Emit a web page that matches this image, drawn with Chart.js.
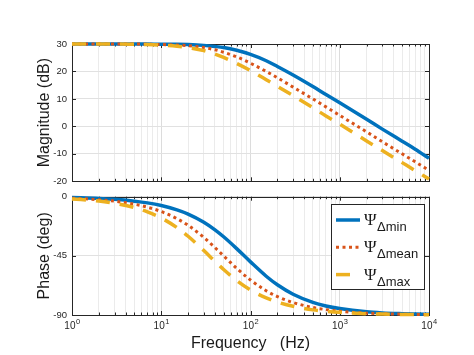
<!DOCTYPE html>
<html>
<head>
<meta charset="utf-8">
<script src="https://cdn.jsdelivr.net/npm/chart.js@4.4.1/dist/chart.umd.min.js"></script>
<style>
  body { margin: 0; background: #fff; }
  #wrap { position: relative; width: 474px; height: 355px; }
  canvas { position: absolute; left: 0; }
  #mag { top: 0; }
  #phase { top: 186px; }
</style>
</head>
<body>
<div id="wrap">
  <canvas id="mag" width="474" height="192"></canvas>
  <canvas id="phase" width="474" height="169"></canvas>
</div>
<script>
// values
const freqs = [1, 2, 3, 5, 7, 10, 15, 20, 30, 40, 50, 70, 100, 150, 200, 300, 500, 700, 1000, 2000, 3000, 5000, 7000, 10000]

const magMin = [30.0, 30.0, 30.0, 30.0, 30.0, 29.9, 29.9, 29.8, 29.5, 29.1, 28.7, 27.7, 26.2, 23.9, 21.8, 18.7, 14.5, 11.6, 8.6, 2.6, -1.0, -5.4, -8.3, -11.6]
const magMean = [30.0, 30.0, 30.0, 30.0, 29.9, 29.8, 29.6, 29.4, 28.7, 27.9, 27.0, 25.3, 23.0, 20.0, 17.7, 14.3, 10.0, 7.1, 4.0, -2.0, -5.6, -10.0, -12.9, -16.0]
const magMax = [30.0, 30.0, 30.0, 29.9, 29.8, 29.6, 29.2, 28.7, 27.6, 26.3, 25.1, 22.9, 20.3, 17.0, 14.6, 11.2, 6.8, 3.8, 0.8, -5.3, -8.8, -13.2, -16.1, -19.2]

const phaseMin = [-0.7, -1.3, -2.0, -3.4, -4.7, -6.7, -10.0, -13.2, -19.4, -25.2, -30.5, -39.5, -49.6, -60.5, -67.0, -74.2, -80.4, -83.1, -85.1, -87.6, -88.4, -89.0, -89.3, -89.5]
const phaseMean = [-1.1, -2.3, -3.4, -5.7, -8.0, -11.3, -16.7, -21.8, -31.0, -38.7, -45.0, -54.5, -63.4, -71.6, -76.0, -80.5, -84.3, -85.9, -87.1, -88.6, -89.0, -89.4, -89.6, -89.7]
const phaseMax = [-1.7, -3.3, -5.0, -8.2, -11.5, -16.2, -23.5, -30.1, -41.0, -49.2, -55.4, -63.8, -71.0, -77.0, -80.2, -83.4, -86.1, -87.2, -88.0, -89.0, -89.3, -89.6, -89.7, -89.8]

const seriesNames = ['Δmin', 'Δmean', 'Δmax']
const freqDecades = [1, 10, 100, 1000, 10000]
const magRange = [-20, 30]
const phaseRange = [-90, 0]

const FONT = "'Liberation Sans', Arial, sans-serif"
const AXIS = '#262626'

Chart.defaults.font.family = FONT
Chart.defaults.color = AXIS

const styles = [
  { color: '#0072BD', width: 3.5, dash: [], order: 3 },
  { color: '#D95319', width: 3, dash: [3, 3.5], order: 2 },
  { color: '#EDB120', width: 3.5, dash: [14, 10], order: 1 }
]

const isDecade = v => freqDecades.includes(v)

// tick positions 1..9 per decade
const logTicks = []
freqDecades.forEach((d, i) => {
  if (i === freqDecades.length - 1) { logTicks.push(d); return }
  for (let m = 1; m <= 9; m++) logTicks.push(d * m)
})

function makeDatasets(series) {
  return series.map((vals, i) => ({
    label: 'Ψ' + seriesNames[i],
    sub: seriesNames[i],
    data: freqs.map((f, j) => ({ x: f, y: vals[j] })),
    borderColor: styles[i].color,
    borderWidth: styles[i].width,
    borderDash: styles[i].dash,
    order: styles[i].order,
    pointRadius: 0,
    cubicInterpolationMode: 'monotone',
    clip: 5
  }))
}

// box round the axes with inward ticks, like the original
const frame = {
  id: 'frame',
  beforeDatasetsDraw(chart) {
    const { ctx, chartArea: a, scales } = chart
    ctx.save()
    ctx.strokeStyle = AXIS
    ctx.lineWidth = 1
    ctx.strokeRect(Math.round(a.left) + 0.5, Math.round(a.top) + 0.5, Math.round(a.right - a.left), Math.round(a.bottom - a.top))
    ctx.beginPath()
    logTicks.forEach(v => {
      const x = Math.round(scales.x.getPixelForValue(v)) + 0.5
      const len = isDecade(v) ? 4 : 2.5
      ctx.moveTo(x, a.bottom); ctx.lineTo(x, a.bottom - len)
      ctx.moveTo(x, a.top); ctx.lineTo(x, a.top + len)
    })
    scales.y.ticks.forEach(t => {
      const y = Math.round(scales.y.getPixelForValue(t.value)) + 0.5
      ctx.moveTo(a.left, y); ctx.lineTo(a.left + 4, y)
      ctx.moveTo(a.right, y); ctx.lineTo(a.right - 4, y)
    })
    ctx.stroke()
    ctx.restore()
  }
}

// decade labels as 10 with a raised exponent
const decadeLabels = {
  id: 'decadeLabels',
  afterDraw(chart) {
    const { ctx, chartArea: a, scales } = chart
    ctx.save()
    ctx.fillStyle = AXIS
    ctx.textBaseline = 'alphabetic'
    freqDecades.forEach(d => {
      const x = scales.x.getPixelForValue(d)
      const exp = String(Math.round(Math.log10(d)))
      ctx.font = '10px ' + FONT
      const w1 = ctx.measureText('10').width
      ctx.font = '7.5px ' + FONT
      const w2 = ctx.measureText(exp).width
      const left = x - (w1 + w2) / 2
      ctx.font = '10px ' + FONT
      ctx.fillText('10', left, a.bottom + 14)
      ctx.font = '7.5px ' + FONT
      ctx.fillText(exp, left + w1 + 0.5, a.bottom + 9)
    })
    ctx.restore()
  }
}

// legend box with subscripted names
const psiLegend = {
  id: 'psiLegend',
  afterDraw(chart) {
    const { ctx } = chart
    const top = chart.canvas.offsetTop
    const box = { x: 331, y: 204 - top, w: 93, h: 85 }
    ctx.save()
    ctx.fillStyle = '#fff'
    ctx.fillRect(box.x, box.y, box.w, box.h)
    ctx.strokeStyle = AXIS
    ctx.lineWidth = 1
    ctx.strokeRect(box.x + 0.5, box.y + 0.5, box.w, box.h)
    chart.data.datasets.forEach((ds, i) => {
      const y = box.y + 16 + i * 27.3
      ctx.beginPath()
      ctx.strokeStyle = ds.borderColor
      ctx.lineWidth = ds.borderWidth
      ctx.setLineDash(ds.borderDash)
      ctx.moveTo(336, y); ctx.lineTo(360, y)
      ctx.stroke()
      ctx.setLineDash([])
      ctx.fillStyle = '#1a1a1a'
      ctx.textBaseline = 'alphabetic'
      ctx.font = "17px 'Liberation Serif', 'DejaVu Serif', serif"
      ctx.fillText('Ψ', 364, y + 5)
      ctx.font = '13px ' + FONT
      ctx.fillText(ds.sub, 377, y + 11)
    })
    ctx.restore()
  }
}

function xAxis(showTitle) {
  return {
    type: 'logarithmic',
    min: 1,
    max: 10000,
    afterBuildTicks: s => { s.ticks = logTicks.map(v => ({ value: v })) },
    afterFit: s => { s.height = showTitle ? 40 : 0 },
    border: { display: false },
    grid: {
      drawTicks: false,
      color: c => (c.tick && isDecade(c.tick.value)) ? '#dcdcdc' : '#ebebeb'
    },
    ticks: { display: false, autoSkip: false },
    title: {
      display: showTitle,
      text: 'Frequency   (Hz)',
      color: '#1a1a1a',
      font: { size: 16 },
      padding: { top: 0, bottom: 2 }
    }
  }
}

function yAxis(range, step, label) {
  return {
    min: range[0],
    max: range[1],
    afterFit: s => { s.width = 72 },
    border: { display: false },
    grid: { drawTicks: false, color: '#e1e1e1' },
    ticks: { stepSize: step, padding: 5, font: { size: 9.5 } },
    title: {
      display: true,
      text: label,
      color: '#1a1a1a',
      font: { size: 16 },
      padding: { top: 35, bottom: 0 }
    }
  }
}

const common = {
  responsive: false,
  devicePixelRatio: 1,
  animation: false,
  plugins: { legend: { display: false }, tooltip: { enabled: false } }
}

new Chart(document.querySelector('#mag'), {
  type: 'line',
  data: { datasets: makeDatasets([magMin, magMean, magMax]) },
  options: {
    ...common,
    layout: { padding: { left: 0, top: 44, right: 45, bottom: 9 } },
    scales: { x: xAxis(false), y: yAxis(magRange, 10, 'Magnitude (dB)') }
  },
  plugins: [frame]
})

new Chart(document.querySelector('#phase'), {
  type: 'line',
  data: { datasets: makeDatasets([phaseMin, phaseMean, phaseMax]) },
  options: {
    ...common,
    layout: { padding: { left: 0, top: 8, right: 45, bottom: 0 } },
    scales: { x: xAxis(true), y: yAxis(phaseRange, 45, 'Phase (deg)') }
  },
  plugins: [frame, decadeLabels, psiLegend]
})
</script>
</body>
</html>
